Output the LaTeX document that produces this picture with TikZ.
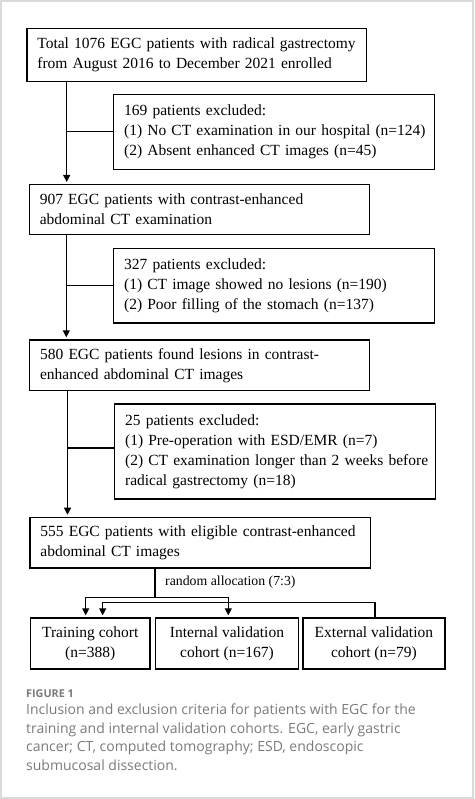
\documentclass[tikz,border=0pt]{standalone}
\usepackage{fontspec}
\setmainfont{Liberation Serif}
\newfontfamily\capfont{Open Sans}
\usetikzlibrary{arrows.meta,calc}
\definecolor{framegray}{HTML}{DADADA}
\definecolor{capgray}{HTML}{7A7A7A}
\newcommand{\ol}[1]{\mbox{#1}}
\begin{document}
\begin{tikzpicture}[x=1pt,y=-1pt,
  box/.style={draw, line width=1.2pt, inner ysep=0pt, inner xsep=10.5pt, anchor=north west, align=left,
    font=\fontsize{15.5}{20}\selectfont},
  cbox/.style={draw, line width=1.2pt, inner sep=0pt, anchor=north west, align=center,
    font=\fontsize{15.5}{20}\selectfont, minimum height=51pt},
  line/.style={line width=1.2pt},
  arr/.style={line width=1.2pt, -{Triangle[length=7pt,width=7pt]}, shorten >=2pt}
]
\useasboundingbox (0,0) rectangle (474,799);
\draw[line width=2pt, framegray] (1,1) rectangle (473,798);

\node[box, text width=318.7pt, minimum height=52.4pt] (b1) at (26.3,28.3)
  {\ol{Total 1076 EGC patients with radical gastrectomy}\\\ol{from August 2016 to December 2021 enrolled}};
\node[box, text width=300pt, minimum height=75pt] (e1) at (113,93.7)
  {\ol{169 patients excluded:}\\\ol{(1) No CT examination in our hospital (n=124)}\\\ol{(2) Absent enhanced CT images (n=45)}};
\node[box, text width=319.3pt, minimum height=50pt] (b2) at (28.7,184)
  {\ol{907 EGC patients with contrast-enhanced}\\\ol{abdominal CT examination}};
\node[box, text width=300pt, minimum height=74.6pt] (e2) at (113,247.7)
  {\ol{327 patients excluded:}\\\ol{(1) CT image showed no lesions (n=190)}\\\ol{(2) Poor filling of the stomach (n=137)}};
\node[box, text width=319pt, minimum height=50.7pt] (b3) at (29,339.3)
  {\ol{580 EGC patients found lesions in contrast-}\\\ol{enhanced abdominal CT images}};
\node[box, text width=300pt, minimum height=95pt] (e3) at (114,403.3)
  {\ol{25 patients excluded:}\\\ol{(1) Pre-operation with ESD/EMR (n=7)}\\\ol{(2) CT examination longer than 2 weeks before}\\\ol{radical gastrectomy (n=18)}};
\node[box, text width=319.7pt, minimum height=50.6pt] (b4) at (29.3,516.7)
  {\ol{555 EGC patients with eligible contrast-enhanced}\\\ol{abdominal CT images}};

\node[cbox, minimum width=119.3pt] (tr) at (30,617.3) {Training cohort\\(n=388)};
\node[cbox, minimum width=142.7pt] (in) at (155,617.3) {Internal validation\\cohort (n=167)};
\node[cbox, minimum width=142pt] (ex) at (302.3,617.3) {External validation\\cohort (n=79)};

% trunks
\path (b1.south west) ++(40.4,0) coordinate (t1);
\draw[arr] (t1) -- (t1 |- b2.north);
\draw[line] (t1 |- e1.west) -- (e1.west);
\path (b2.south west) ++(37.6,0) coordinate (t2);
\draw[arr] (t2) -- (t2 |- b3.north);
\draw[line] (t2 |- e2.west) -- (e2.west);
\path (b3.south west) ++(38.5,0) coordinate (t3);
\draw[arr] (t3) -- (t3 |- b4.north);
\path (e3.west) ++(0,-3.5) coordinate (e3w);
\draw[line] (t3 |- e3w) -- (e3w);

% allocation
\path (b4.south west) ++(125.7,0) coordinate (a0);
\path (a0) ++(0,29.3) coordinate (a1);
\path (tr.north west) ++(55.7,0) coordinate (trA);
\path (tr.north west) ++(72.7,0) coordinate (trB);
\path (in.north west) ++(73.3,0) coordinate (inA);
\path (ex.north west) ++(72.7,0) coordinate (exA);
\path (exA) ++(0,-14.6) coordinate (ex1);
\draw[line] (a0) -- (a1);
\draw[arr] (a1) -| (trA);
\draw[arr] (a1) -| (inA);
\draw[arr] (exA) -- (ex1) -| (trB);

\node[anchor=west, inner sep=0pt, font=\fontsize{13.8}{16}\selectfont] (lab) at (165,581.7) {random allocation (7:3)};

% caption
\node[anchor=west, inner sep=0pt, text=capgray, font=\capfont\bfseries\fontsize{10.8}{12}\selectfont] (fig) at (26,694) {FIGURE 1};
\node[anchor=north west, inner sep=0pt, text=capgray, align=left, font=\capfont\fontsize{14}{18.5}\selectfont] (cap) at (26,704)
  {Inclusion and exclusion criteria for patients with EGC for the\\training and internal validation cohorts. EGC, early gastric\\cancer; CT, computed tomography; ESD, endoscopic\\submucosal dissection.};
\end{tikzpicture}
\end{document}
